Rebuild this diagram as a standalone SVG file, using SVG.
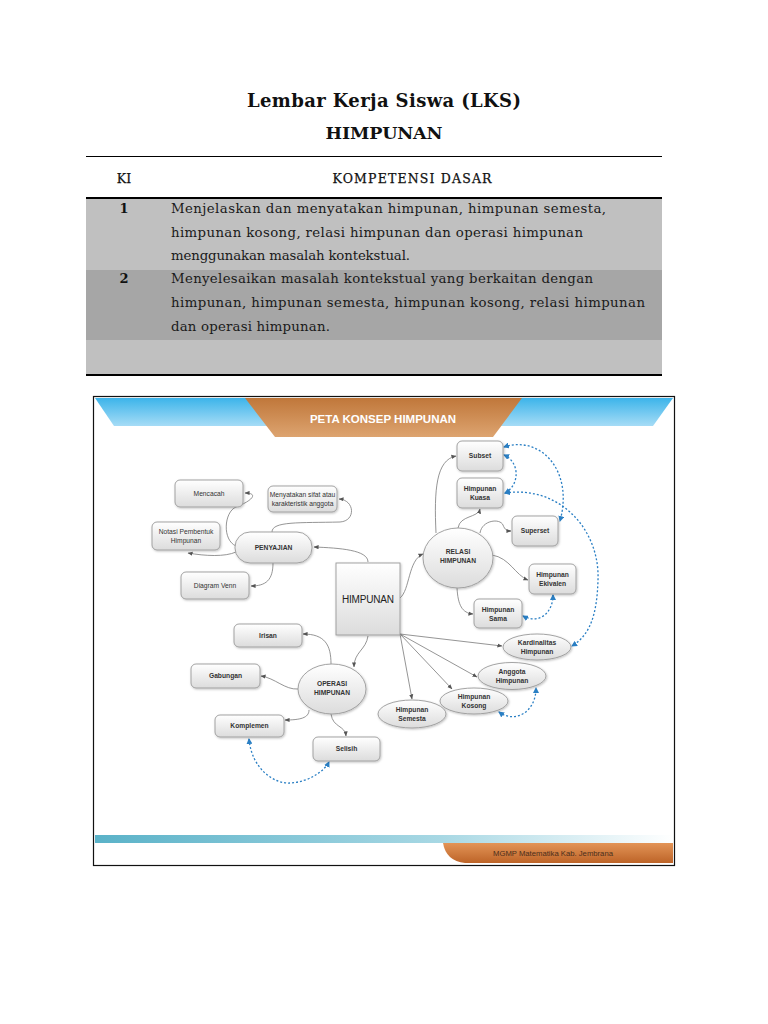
<svg xmlns="http://www.w3.org/2000/svg" width="768" height="1024" viewBox="0 0 768 1024">
<defs>
<style>
.title{font-family:"DejaVu Serif","Liberation Serif",serif;font-weight:bold;fill:#111;text-anchor:middle}
.body{font-family:"DejaVu Serif","Liberation Serif",serif;font-size:13.3px;fill:#1a1a1a}
.hdr{font-family:"DejaVu Serif","Liberation Serif",serif;font-size:12.5px;fill:#111;text-anchor:middle;stroke:#111;stroke-width:0.25}
.num{font-family:"DejaVu Serif","Liberation Serif",serif;font-size:13px;font-weight:bold;fill:#111;text-anchor:middle}
.node{fill:url(#ng);stroke:#9a9a9a;stroke-width:0.9;filter:url(#sh)}
.lb{font-family:"Liberation Sans",Arial,sans-serif;font-size:6.7px;fill:#333;text-anchor:middle}
.lbb{font-family:"Liberation Sans",Arial,sans-serif;font-size:6.7px;font-weight:bold;fill:#333;text-anchor:middle}
.con{fill:none;stroke:#7a7a7a;stroke-width:0.8;marker-end:url(#ah)}
.dot{fill:none;stroke:#2a7fc4;stroke-width:1.3;stroke-dasharray:2 2;marker-start:url(#bh);marker-end:url(#bh)}
</style>
<linearGradient id="ng" x1="0" y1="0" x2="0" y2="1"><stop offset="0" stop-color="#ffffff"/><stop offset="1" stop-color="#dcdcdc"/></linearGradient>
<linearGradient id="bl" x1="0" y1="0" x2="0" y2="1"><stop offset="0" stop-color="#3cb4ea"/><stop offset="1" stop-color="#a6dcf6"/></linearGradient>
<linearGradient id="or" x1="0" y1="0" x2="0" y2="1"><stop offset="0" stop-color="#c0773a"/><stop offset="1" stop-color="#dda470"/></linearGradient>
<linearGradient id="or2" x1="0" y1="0" x2="0" y2="1"><stop offset="0" stop-color="#e39457"/><stop offset="1" stop-color="#bd6428"/></linearGradient>
<linearGradient id="st" x1="0" y1="0" x2="1" y2="0"><stop offset="0" stop-color="#5ab2c8"/><stop offset="0.6" stop-color="#a8d8e4"/><stop offset="1" stop-color="#ffffff"/></linearGradient>
<filter id="sh" x="-20%" y="-20%" width="140%" height="150%"><feDropShadow dx="0.8" dy="1" stdDeviation="0.8" flood-color="#000" flood-opacity="0.25"/></filter>
<marker id="ah" viewBox="0 0 6 6" refX="5.5" refY="3" markerWidth="5" markerHeight="5" orient="auto" markerUnits="userSpaceOnUse"><path d="M0,0.5 L6,3 L0,5.5 Z" fill="#555"/></marker>
<marker id="bh" viewBox="0 0 6 6" refX="5" refY="3" markerWidth="6" markerHeight="6" orient="auto-start-reverse" markerUnits="userSpaceOnUse"><path d="M0,0 L6,3 L0,6 Z" fill="#2a7fc4"/></marker>
</defs>
<rect width="768" height="1024" fill="#fff"/>

<g id="header">
<text class="title" x="384" y="107" font-size="18" textLength="274">Lembar Kerja Siswa (LKS)</text>
<text class="title" x="384" y="139" font-size="17.5" textLength="117">HIMPUNAN</text>
</g>

<g id="table">
<rect x="86" y="199" width="576" height="71" fill="#c0c0c0"/>
<rect x="86" y="270" width="576" height="70" fill="#a6a6a6"/>
<rect x="86" y="340" width="576" height="34" fill="#c0c0c0"/>
<line x1="86" y1="156.5" x2="662" y2="156.5" stroke="#000" stroke-width="1"/>
<line x1="86" y1="198" x2="662" y2="198" stroke="#000" stroke-width="2"/>
<line x1="86" y1="375" x2="662" y2="375" stroke="#000" stroke-width="2.2"/>
<text class="hdr" x="124" y="183">KI</text>
<text class="hdr" x="412" y="183" textLength="159">KOMPETENSI DASAR</text>
<text class="num" x="124" y="213">1</text>
<text class="body" x="171" y="213" textLength="435">Menjelaskan dan menyatakan himpunan, himpunan semesta,</text>
<text class="body" x="171" y="237" textLength="412">himpunan kosong, relasi himpunan dan operasi himpunan</text>
<text class="body" x="171" y="260" textLength="239">menggunakan masalah kontekstual.</text>
<text class="num" x="124" y="283">2</text>
<text class="body" x="171" y="283" textLength="422">Menyelesaikan masalah kontekstual  yang berkaitan dengan</text>
<text class="body" x="171" y="307" textLength="474">himpunan, himpunan semesta, himpunan kosong, relasi himpunan</text>
<text class="body" x="171" y="331" textLength="159">dan operasi himpunan.</text>
</g>

<g id="frame">
<rect x="93.5" y="396.5" width="581" height="469" fill="#fff" stroke="#111" stroke-width="1.2"/>
<polygon points="95,398 252,398 268,426 114,426" fill="url(#bl)"/>
<polygon points="500,398 673,398 653,426 485,426" fill="url(#bl)"/>
<polygon points="245,398 522,398 493,437 275,437" fill="url(#or)"/>
<text x="383" y="423" font-family="Liberation Sans,Arial,sans-serif" font-size="11.5" font-weight="bold" fill="#fff" text-anchor="middle">PETA KONSEP HIMPUNAN</text>
<rect x="95" y="835" width="578" height="8" fill="url(#st)"/>
<path d="M443,843 L673,843 L673,863 L465,863 Q446,861 443,843 Z" fill="url(#or2)"/>
<text x="553" y="856" font-family="Liberation Sans,Arial,sans-serif" font-size="7.7" fill="#4a2e1c" text-anchor="middle">MGMP Matematika Kab. Jembrana</text>
</g>

<g id="connectors">
<path class="con" d="M368,562 C368,550 340,548 314,547"/>
<path class="con" d="M236,546 C222,540 224,512 236,507 C254,500 258,493 245,493"/>
<path class="con" d="M236,552 C225,557 205,556 188,553"/>
<path class="con" d="M272,532 C272,521 300,523 340,522 C356,521 355,500 339,499"/>
<path class="con" d="M273,563 C273,580 266,586 251,586"/>
<path class="con" d="M400,598 C410,590 408,560 423,554"/>
<path class="con" d="M436,533 C434,490 436,460 456,456"/>
<path class="con" d="M458,528 C460,515 478,518 480,509"/>
<path class="con" d="M480,533 C482,520 500,518 503,525 C505,530 507,531 511,531"/>
<path class="con" d="M492,555 C510,558 515,575 528,580"/>
<path class="con" d="M457,588 C458,605 462,613 473,614"/>
<path class="con" d="M400,634 L502,646"/>
<path class="con" d="M400,634 L477,677"/>
<path class="con" d="M400,634 L452,689"/>
<path class="con" d="M400,634 L412,699"/>
<path class="con" d="M368,636 C366,650 354,652 354,667"/>
<path class="con" d="M331,664 C331,645 325,634 303,634"/>
<path class="con" d="M298,689 C285,690 275,678 261,676"/>
<path class="con" d="M309,710 C309,718 300,720 285,720"/>
<path class="con" d="M331,714 C333,728 345,725 346,736"/>
<path class="dot" d="M249,739 C252,770 275,784 290,783 C310,782 325,770 329,762"/>
<path class="dot" d="M499,712 C515,724 536,712 536,688"/>
<path class="dot" d="M523,616 C540,625 553,612 553,595"/>
<path class="dot" d="M504,455 C520,462 520,485 505,493"/>
<path class="dot" d="M504,447 C540,435 574,470 560,521"/>
<path class="dot" d="M505,493 C560,485 600,530 598,580 C597,615 590,635 572,646"/>
</g>

<g id="n-mencacah"><rect class="node" x="175" y="480" width="68" height="27" rx="5"/><text class="lb" x="209" y="496">Mencacah</text></g>
<g id="n-menyatakan"><rect class="node" x="268" y="486" width="69" height="26" rx="5"/><text class="lb" x="302.5" y="497">Menyatakan sifat atau</text><text class="lb" x="302.5" y="506">karakteristik anggota</text></g>
<g id="n-notasi"><rect class="node" x="152" y="522" width="68" height="28" rx="5"/><text class="lb" x="186" y="534">Notasi Pembentuk</text><text class="lb" x="186" y="543">Himpunan</text></g>
<g id="n-venn"><rect class="node" x="181" y="572" width="68" height="27" rx="5"/><text class="lb" x="215" y="588">Diagram Venn</text></g>
<g id="n-penyajian"><rect class="node" x="235" y="532" width="77" height="31" rx="15"/><text class="lbb" x="273.5" y="550">PENYAJIAN</text></g>
<g id="n-himpunan"><rect class="node" x="336" y="563" width="64" height="72" rx="0"/><text x="368" y="603" font-family="Liberation Sans,Arial,sans-serif" font-size="10" fill="#222" text-anchor="middle" textLength="52">HIMPUNAN</text></g>
<g id="n-relasi"><ellipse class="node" cx="458" cy="558" rx="35" ry="30"/><text class="lbb" x="458" y="554">RELASI</text><text class="lbb" x="458" y="563">HIMPUNAN</text></g>
<g id="n-subset"><rect class="node" x="457" y="441" width="46" height="30" rx="5"/><text class="lbb" x="480" y="458">Subset</text></g>
<g id="n-kuasa"><rect class="node" x="457" y="478" width="46" height="30" rx="5"/><text class="lbb" x="480" y="491">Himpunan</text><text class="lbb" x="480" y="500">Kuasa</text></g>
<g id="n-superset"><rect class="node" x="512" y="516" width="46" height="30" rx="5"/><text class="lbb" x="535" y="533">Superset</text></g>
<g id="n-ekivalen"><rect class="node" x="529" y="564" width="47" height="30" rx="5"/><text class="lbb" x="552.5" y="577">Himpunan</text><text class="lbb" x="552.5" y="586">Ekivalen</text></g>
<g id="n-sama"><rect class="node" x="474" y="599" width="48" height="29" rx="5"/><text class="lbb" x="498" y="612">Himpunan</text><text class="lbb" x="498" y="621">Sama</text></g>
<g id="n-kardinalitas"><ellipse class="node" cx="537" cy="647" rx="34" ry="13"/><text class="lbb" x="537" y="645">Kardinalitas</text><text class="lbb" x="537" y="654">Himpunan</text></g>
<g id="n-anggota"><ellipse class="node" cx="512" cy="676" rx="34" ry="13.5"/><text class="lbb" x="512" y="674">Anggota</text><text class="lbb" x="512" y="683">Himpunan</text></g>
<g id="n-kosong"><ellipse class="node" cx="474" cy="701" rx="34" ry="13"/><text class="lbb" x="474" y="699">Himpunan</text><text class="lbb" x="474" y="708">Kosong</text></g>
<g id="n-semesta"><ellipse class="node" cx="412" cy="714" rx="34" ry="14"/><text class="lbb" x="412" y="712">Himpunan</text><text class="lbb" x="412" y="721">Semesta</text></g>
<g id="n-operasi"><ellipse class="node" cx="332" cy="689" rx="34" ry="25"/><text class="lbb" x="332" y="686">OPERASI</text><text class="lbb" x="332" y="695">HIMPUNAN</text></g>
<g id="n-irisan"><rect class="node" x="234" y="624" width="68" height="23" rx="5"/><text class="lbb" x="268" y="638">Irisan</text></g>
<g id="n-gabungan"><rect class="node" x="191" y="664" width="69" height="24" rx="5"/><text class="lbb" x="225.5" y="678">Gabungan</text></g>
<g id="n-komplemen"><rect class="node" x="215" y="715" width="69" height="22" rx="5"/><text class="lbb" x="249.5" y="728">Komplemen</text></g>
<g id="n-selisih"><rect class="node" x="313" y="737" width="67" height="24" rx="5"/><text class="lbb" x="346.5" y="751">Selisih</text></g>
</svg>
